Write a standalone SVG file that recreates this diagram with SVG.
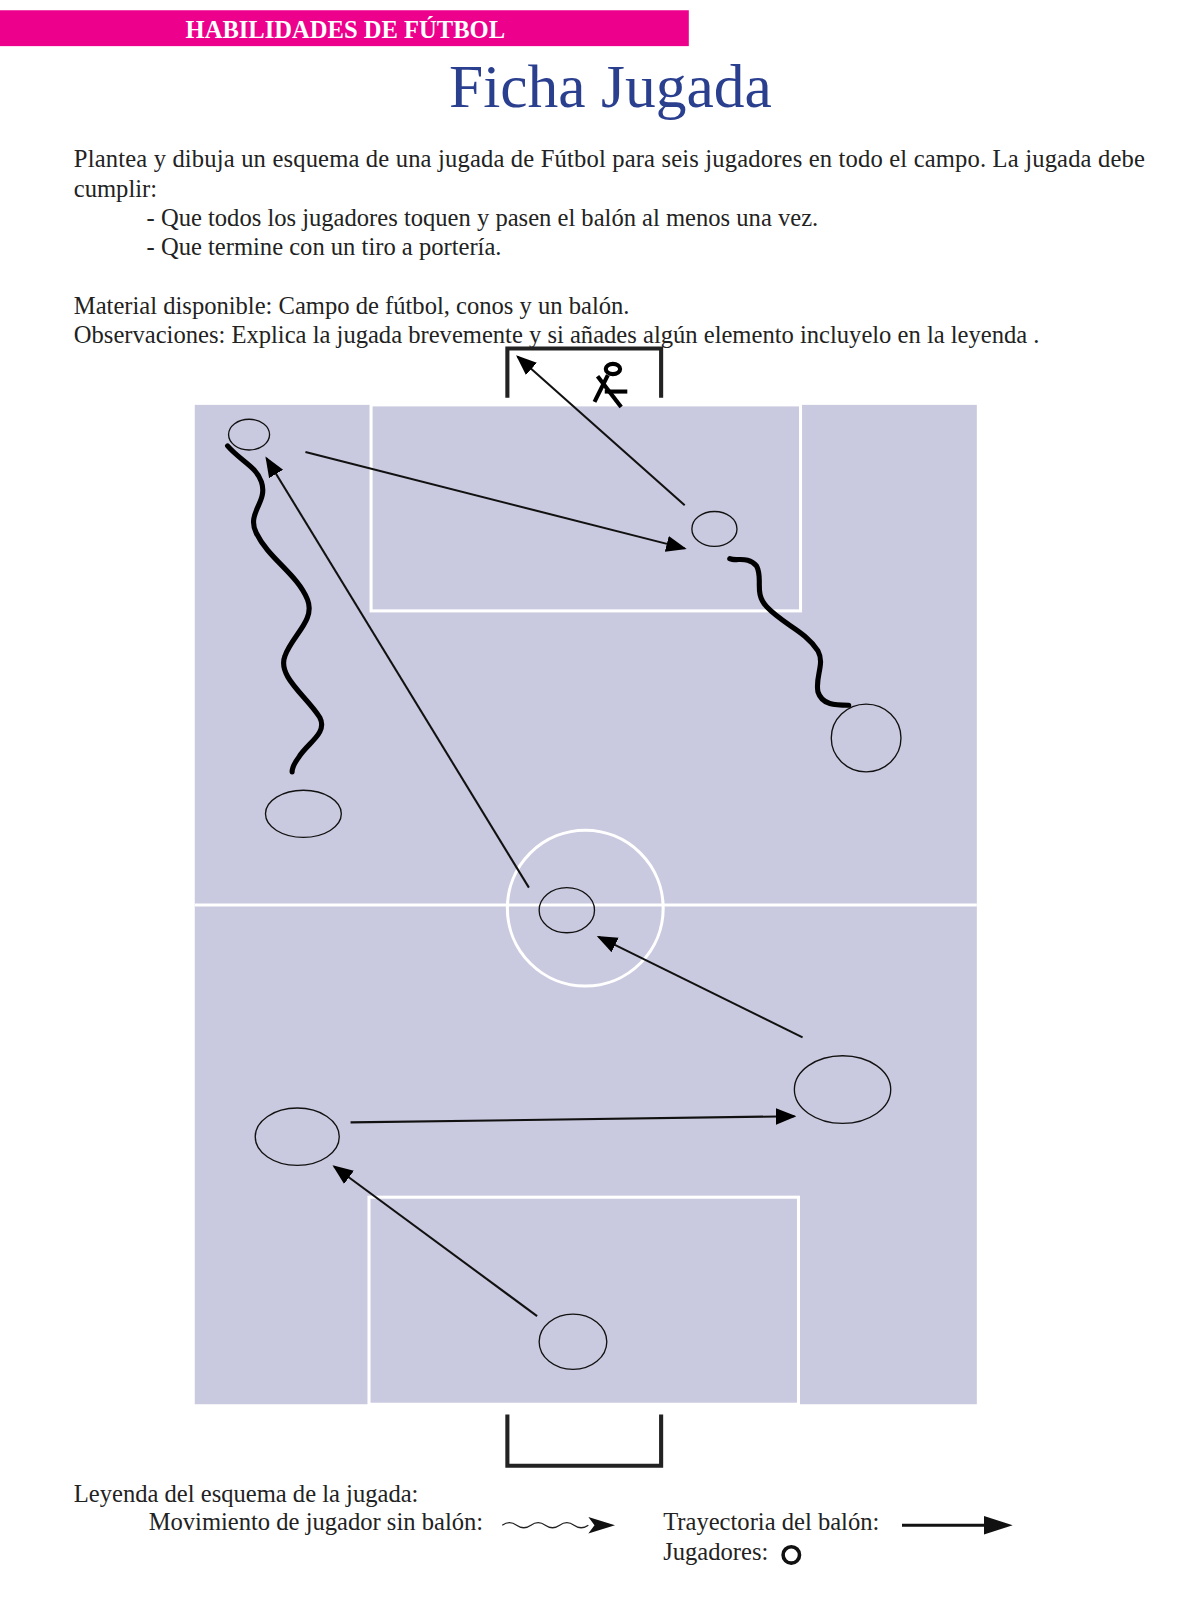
<svg xmlns="http://www.w3.org/2000/svg" width="1189" height="1600" viewBox="0 0 1189 1600">
<style>
.t{font-family:"Liberation Serif",serif;font-size:24px;fill:#222}
.fl{fill:none;stroke:#fff;stroke-width:3}
.pl{fill:none;stroke:#111;stroke-width:1.3}
.wv{stroke:#000;stroke-width:5;fill:none;stroke-linecap:round}
.gl{fill:none;stroke:#222;stroke-width:4}
</style>
<defs>
<marker id="ah2" markerWidth="20" markerHeight="20" refX="18" refY="10" orient="auto" markerUnits="userSpaceOnUse">
<path d="M0,2 L20,10 L0,18 Z" fill="#000"/>
</marker>
</defs>
<g transform="scale(1.025)">
<rect x="0" y="10" width="672" height="35" fill="#EC008C"/>
<text x="181" y="37" font-family="Liberation Serif,serif" font-weight="bold" font-size="24" fill="#fff">HABILIDADES DE FÚTBOL</text>
<text x="438" y="104" font-family="Liberation Serif,serif" font-size="60" fill="#2B3F8F">Ficha Jugada</text>
<text class="t" x="72" y="163" textLength="1045">Plantea y dibuja un esquema de una jugada de Fútbol para seis jugadores en todo el campo. La jugada debe</text>
<text class="t" x="72" y="192">cumplir:</text>
<text class="t" x="143" y="220">- Que todos los jugadores toquen y pasen el balón al menos una vez.</text>
<text class="t" x="143" y="249">- Que termine con un tiro a portería.</text>
<text class="t" x="72" y="306">Material disponible: Campo de fútbol, conos y un balón.</text>
<text class="t" x="72" y="335">Observaciones: Explica la jugada brevemente y si añades algún elemento  incluyelo en la leyenda .</text>
<g id="field">
<rect x="190" y="395" width="763" height="975" fill="#C9C9DF"/>
<rect class="fl" x="362" y="395" width="419" height="201"/>
<rect class="fl" x="360" y="1168" width="419" height="202"/>
<line class="fl" x1="190" y1="883" x2="953" y2="883"/>
<circle class="fl" cx="571" cy="886" r="76"/>
<path class="gl" d="M495,388 V340 H645 V388"/>
<path class="gl" d="M495,1380 V1430 H645 V1380"/>
</g>
<g id="keeper" stroke="#000" stroke-width="4" fill="none">
<ellipse cx="598" cy="360" rx="7" ry="5"/>
<line x1="593" y1="366" x2="580" y2="392"/>
<line x1="583" y1="367" x2="606" y2="397"/>
<line x1="590" y1="382" x2="612" y2="382"/>
</g>
<g id="players">
<ellipse class="pl" cx="243" cy="424" rx="20" ry="15"/>
<ellipse class="pl" cx="697" cy="516" rx="22" ry="17"/>
<ellipse class="pl" cx="845" cy="720" rx="34" ry="33"/>
<ellipse class="pl" cx="296" cy="794" rx="37" ry="23"/>
<ellipse class="pl" cx="553" cy="888" rx="27" ry="22"/>
<ellipse class="pl" cx="822" cy="1063" rx="47" ry="33"/>
<ellipse class="pl" cx="290" cy="1109" rx="41" ry="28"/>
<ellipse class="pl" cx="559" cy="1309" rx="33" ry="27"/>
</g>
<g id="connectors">
<g stroke="#111" stroke-width="2" fill="none" marker-end="url(#ah2)">
<line x1="298" y1="441" x2="668" y2="535"/>
<line x1="668" y1="493" x2="505" y2="348"/>
<line x1="516" y1="866" x2="260" y2="447"/>
<line x1="783" y1="1012" x2="584" y2="914"/>
<line x1="342" y1="1095" x2="775" y2="1089"/>
<line x1="524" y1="1284" x2="326" y2="1138"/>
</g>
<path class="wv" d="M222,435 C235,450 250,455 255,470 C262,490 240,500 250,520 C262,545 290,560 300,585 C308,605 285,620 278,640 C270,660 300,680 312,700 C320,715 300,725 292,738 C286,746 285,750 285,753"/>
<path class="wv" d="M712,545 C718,548 730,542 738,552 C745,565 735,578 748,592 C765,610 785,615 798,635 C805,648 795,660 798,675 C802,688 815,688 828,688"/>
</g>
<g id="legend">
<text class="t" x="72" y="1465">Leyenda del esquema de la jugada:</text>
<text class="t" x="145" y="1493">Movimiento de jugador sin balón:</text>
<path d="M490,1488 q7,-5 14,0 t14,0 t14,0 t14,0 t14,0 t14,0" stroke="#222" stroke-width="1.3" fill="none"/>
<path d="M574,1480 L600,1488 L574,1496 L580,1488 Z" fill="#111"/>
<text class="t" x="647" y="1493">Trayectoria del balón:</text>
<line x1="880" y1="1488" x2="965" y2="1488" stroke="#111" stroke-width="3"/>
<path d="M960,1479 L988,1488 L960,1497 Z" fill="#111"/>
<text class="t" x="647" y="1522">Jugadores:</text>
<circle cx="772" cy="1517" r="8" fill="none" stroke="#111" stroke-width="3.5"/>
</g>
</g>
</svg>
